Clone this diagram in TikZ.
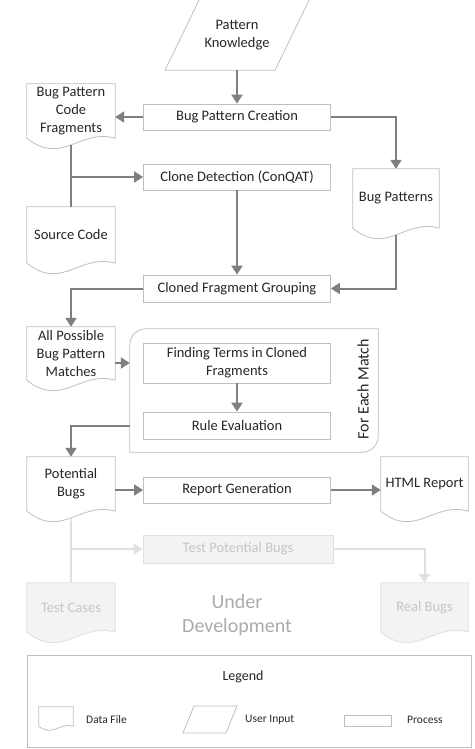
\documentclass[tikz,border=0pt]{standalone}
\usepackage{fontspec}
\setmainfont{Carlito}
\usetikzlibrary{arrows.meta,calc,backgrounds}

\definecolor{linegray}{HTML}{7F7F7F}
\definecolor{boxgray}{HTML}{BFBFBF}
\definecolor{txt}{HTML}{262626}
\definecolor{fadeline}{HTML}{E0E0E0}
\definecolor{fadefill}{HTML}{F3F3F3}
\definecolor{fadetxt}{HTML}{C6C6C6}
\definecolor{devtxt}{HTML}{ABABAB}

\newcommand{\flowfont}{\fontsize{14.5pt}{17.7pt}\selectfont}
\newcommand{\matchfont}{\fontsize{16pt}{19pt}\selectfont}
\newcommand{\devfont}{\fontsize{20pt}{24pt}\selectfont}
\newcommand{\keyfont}{\fontsize{11.5pt}{14pt}\selectfont}
\newcommand{\legendfont}{\fontsize{14pt}{17pt}\selectfont}

%% outline of a data file: straight top and sides, wavy bottom
\newcommand{\docframe}[3][boxline]{%
  \draw[#1] (#2.south west) -- (#2.north west) -- (#2.north east) -- (#2.south east)
    .. controls ($(#2.south west)!0.6!(#2.south east)+(0,-0.36*#3)$)
    and ($(#2.south west)!0.4!(#2.south east)+(0,#3)$) .. (#2.south west) -- cycle;}
\newcommand{\fadeframe}[1]{%
  \begin{pgfonlayer}{background}\docframe[fadebox]{#1}{28}\end{pgfonlayer}}

\tikzset{
  flow/.style={draw=linegray, line width=2pt, -{Triangle[length=9pt,width=11pt]}},
  link/.style={draw=linegray, line width=2pt},
  fadeflow/.style={draw=fadeline, line width=2pt, -{Triangle[length=9pt,width=11pt]}},
  fadelink/.style={draw=fadeline, line width=2pt},
  boxline/.style={draw=boxgray, line width=0.8pt},
  fadebox/.style={draw=fadeline, fill=fadefill, line width=0.8pt},
  proc/.style={draw=boxgray, line width=0.8pt, fill=white, minimum width=187pt,
    inner sep=0pt, align=center, font=\flowfont, text=txt},
  fadeproc/.style={proc, draw=fadeline, fill=fadefill, text=fadetxt},
  datafile/.style={minimum width=88pt, inner sep=0pt, align=center, font=\flowfont, text=txt},
  fadefile/.style={datafile, text=fadetxt},
  keytext/.style={anchor=west, inner sep=0pt, font=\keyfont, text=txt}
}

\begin{document}
\begin{tikzpicture}[x=1pt, y=-1pt]
    \useasboundingbox (0,0) rectangle (474,749);

    %% user input
    \node[datafile, minimum width=0pt, minimum height=70pt] (know) at (237,35) {Pattern\\Knowledge};
    \draw[boxline] ($(know.south)+(-72,0)$) -- ++(110,0) -- ++(35.5,-73) -- ++(-110,0) -- cycle;

    %% processes
    \node[proc, minimum height=26pt] (bpc) at (237,117) {Bug Pattern Creation};
    \node[proc, minimum height=26pt] (cd) at (237,177) {Clone Detection (ConQAT)};
    \node[proc, minimum height=27pt] (cfg) at (237,288.5) {Cloned Fragment Grouping};
    \node[proc, minimum height=40pt] (ft) at (237,363) {Finding Terms in Cloned\\Fragments};
    \node[proc, minimum height=27pt] (re) at (237,425.5) {Rule Evaluation};
    \node[proc, minimum height=26pt] (rg) at (237,490) {Report Generation};

    %% data files
    \node[datafile, minimum height=54pt] (bpcf) at (71,111) {Bug Pattern\\Code\\Fragments};
    \node[datafile, minimum height=56pt] (src) at (71,235) {Source Code};
    \node[datafile, minimum width=86pt, minimum height=59pt] (bpat) at (396,198.5) {Bug Patterns};
    \node[datafile, minimum height=53pt] (allm) at (71,353.5) {All Possible\\Bug Pattern\\Matches};
    \node[datafile, minimum height=54pt] (pot) at (71,484) {Potential\\Bugs};
    \node[datafile, minimum width=87pt, minimum height=54pt] (html) at (424.5,484) {HTML Report};
    \foreach \f in {bpcf,src,bpat,allm,pot,html}
        \docframe{\f}{28};

    %% loop over matches
    \node[minimum width=248pt, minimum height=123pt, inner sep=0pt] (each) at (254,390.5) {};
    \draw[boxline] (each.south west) -- ([yshift=-16pt]each.north west)
        arc[start angle=180, end angle=270, radius=16] -- (each.north east)
        -- ([yshift=16pt]each.south east) arc[start angle=0, end angle=90, radius=16] -- cycle;
    \node[font=\matchfont, text=txt, rotate=90] (match) at (363,389) {For Each Match};

    %% connectors
    \draw[flow] (know.south) -- (bpc.north);
    \draw[flow] (bpc.west) -- (bpc.west -| bpcf.east);
    \draw[flow] (bpc.east) -| (bpat.north);
    \draw[link] ([yshift=-7pt]bpcf.south) -- (src.north);
    \draw[flow] (bpcf.south |- cd.west) -- (cd.west);
    \draw[flow] (cd.south) -- (cfg.north);
    \draw[flow] ([yshift=-7pt]bpat.south) |- (cfg.east);
    \draw[flow] (cfg.west) -| (allm.north);
    \draw[flow] (allm.east |- ft.west) -- (each.west |- ft.west);
    \draw[flow] (ft.south) -- (re.north);
    \draw[flow] (each.west |- re.west) -| (pot.north);
    \draw[flow] (pot.east |- rg.west) -- (rg.west);
    \draw[flow] (rg.east) -- (rg.east -| html.west);

    %% under development
    \node[fadeproc, minimum width=190pt, minimum height=28pt] (tpb) at (238,549) {Test Potential Bugs};
    \node[fadefile, minimum height=49pt] (tc) at (71,607.5) {Test Cases};
    \node[fadefile, minimum width=87pt, minimum height=49pt] (real) at (424.5,607.5) {Real Bugs};
    \fadeframe{tc}
    \fadeframe{real}
    \draw[fadelink] ([yshift=-7pt]pot.south) -- (tc.north);
    \draw[fadeflow] (pot.south |- tpb.west) -- (tpb.west);
    \draw[fadeflow] (tpb.east) -| (real.north);
    \node[font=\devfont, text=devtxt, align=center] (dev) at (237,615) {Under\\Development};

    %% legend
    \node[boxline, minimum width=444pt, minimum height=92pt] (legend) at (249,701) {};
    \node[font=\legendfont, text=txt] (legtitle) at (243,677) {Legend};
    \node[minimum width=34pt, minimum height=19pt, inner sep=0pt] (keyfile) at (56,716.5) {};
    \docframe{keyfile}{11}
    \node[keytext] (keyfiletxt) at (86,720) {Data File};
    \draw[boxline] (183,733) -- (226,733) -- (237,706) -- (194,706) -- cycle;
    \node[keytext] (keyinputtxt) at (245,720) {User Input};
    \node[boxline, minimum width=47pt, minimum height=11pt, inner sep=0pt] (keyproc) at (367.5,720.5) {};
    \node[keytext] (keyproctxt) at (407,720) {Process};
\end{tikzpicture}
\end{document}
